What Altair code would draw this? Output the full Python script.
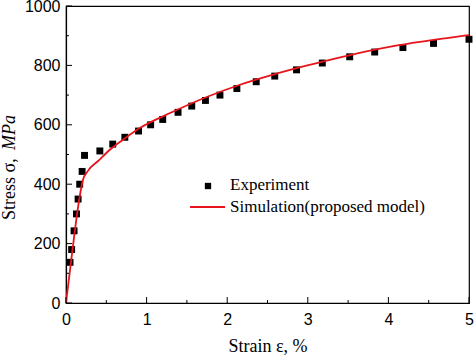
import altair as alt
import pandas as pd

# Experiment data (strain %, stress MPa)
exp_strain = [0.05, 0.07, 0.10, 0.13, 0.15, 0.17, 0.20, 0.23, 0.42, 0.58, 0.73, 0.90, 1.05,
              1.20, 1.39, 1.56, 1.73, 1.91, 2.12, 2.36, 2.59, 2.86, 3.18, 3.52, 3.83, 4.18, 4.56, 5.00]
exp_stress = [137, 180, 243, 300, 350, 400, 443, 497, 512, 535, 558, 579, 600,
              618, 642, 663, 682, 700, 722, 745, 764, 785, 808, 829, 845, 860, 874, 888]

# Simulation curve
sim_strain = [0, 0.08, 0.15, 0.21, 0.27, 0.41, 0.54, 0.75, 0.91, 1.32, 1.73, 2.15, 2.56,
              2.97, 3.51, 4.13, 4.75, 5.00]
sim_stress = [0, 178, 324, 414, 444, 481, 515, 558, 588, 643, 692, 734, 768,
              798, 834, 868, 893, 902]

x_major = [0, 1, 2, 3, 4, 5]
x_minor = [0.5, 1.5, 2.5, 3.5, 4.5]
y_major = [0, 200, 400, 600, 800, 1000]
y_minor = [100, 300, 500, 700, 900]

legend_labels = ["Experiment", "Simulation(proposed model)"]
x_title = "Strain ε, %"
y_title_a = "Stress σ,"
y_title_b = "MPa"

W, H = 403, 297
RED = "#e8141b"
SERIF = "Liberation Serif"
SANS = "Liberation Sans"

exp_df = pd.DataFrame({"strain": exp_strain, "stress": exp_stress})
sim_df = pd.DataFrame({"strain": sim_strain, "stress": sim_stress})

xs = alt.Scale(domain=[0, 5], nice=False, zero=False)
ys = alt.Scale(domain=[0, 1000], nice=False)

x_axis = alt.Axis(values=x_major, ticks=False, labelFont=SANS, labelFontSize=16, labelColor="black",
                  labelPadding=8, domainColor="black", domainWidth=1.2, grid=False,
                  title=x_title, titleFont=SERIF, titleFontSize=18, titleFontWeight="normal",
                  titleColor="black", titleBaseline="alphabetic", titleY=48, titleX=W / 2,
                  labelFlush=False, format="d")
y_axis = alt.Axis(values=y_major, ticks=False, labelFont=SANS, labelFontSize=16, labelColor="black",
                  labelPadding=6, domainColor="black", domainWidth=1.2, grid=False, title=None,
                  labelFlush=False, format="d")

base_x = alt.X("strain:Q", scale=xs, axis=x_axis)
base_y = alt.Y("stress:Q", scale=ys, axis=y_axis)

points = alt.Chart(exp_df).mark_point(shape="square", filled=True, color="black", size=48, opacity=1).encode(
    x=base_x, y=base_y)
line = alt.Chart(sim_df).mark_line(color=RED, strokeWidth=1.8, interpolate="monotone").encode(
    x="strain:Q", y="stress:Q")

def xticks(vals, length):
    return alt.Chart(pd.DataFrame({"v": vals})).mark_rule(color="black", strokeWidth=1).encode(
        x=alt.X("v:Q", scale=xs), y=alt.value(H), y2=alt.value(H - length))

def yticks(vals, length):
    return alt.Chart(pd.DataFrame({"v": vals})).mark_rule(color="black", strokeWidth=1).encode(
        y=alt.Y("v:Q", scale=ys), x=alt.value(0), x2=alt.value(length))

one = pd.DataFrame({"a": [0]})
ytitle1 = alt.Chart(one).mark_text(text=y_title_a, font=SERIF, fontSize=18, angle=270, align="left",
                                   baseline="alphabetic", color="black").encode(
    x=alt.value(-51), y=alt.value(214))
ytitle2 = alt.Chart(one).mark_text(text=y_title_b, font=SERIF, fontSize=18, fontStyle="italic", angle=270,
                                   align="right", baseline="alphabetic", color="black").encode(
    x=alt.value(-51), y=alt.value(109))

leg_sq = alt.Chart(one).mark_point(shape="square", filled=True, color="black", size=40, opacity=1).encode(
    x=alt.value(142), y=alt.value(180))
leg_t1 = alt.Chart(one).mark_text(text=legend_labels[0], font=SERIF, fontSize=17, align="left",
                                  baseline="middle", color="black").encode(x=alt.value(164), y=alt.value(179))
leg_ln = alt.Chart(one).mark_rule(color=RED, strokeWidth=1.8).encode(
    x=alt.value(124), x2=alt.value(159), y=alt.value(201))
leg_t2 = alt.Chart(one).mark_text(text=legend_labels[1], font=SERIF, fontSize=17, align="left",
                                  baseline="middle", color="black").encode(x=alt.value(164), y=alt.value(201))

chart = alt.layer(
    points, line,
    xticks(x_major, 6), xticks(x_minor, 3), yticks(y_major, 6), yticks(y_minor, 3),
    ytitle1, ytitle2, leg_sq, leg_t1, leg_ln, leg_t2,
).properties(
    width=W, height=H,
    autosize=alt.AutoSizeParams(type="none"),
    padding={"left": 66, "top": 6, "right": 5, "bottom": 52},
    background="white",
).configure_view(stroke="black", strokeWidth=1.2)

chart.save("out.html", embed_options={"renderer": "svg", "actions": False})
